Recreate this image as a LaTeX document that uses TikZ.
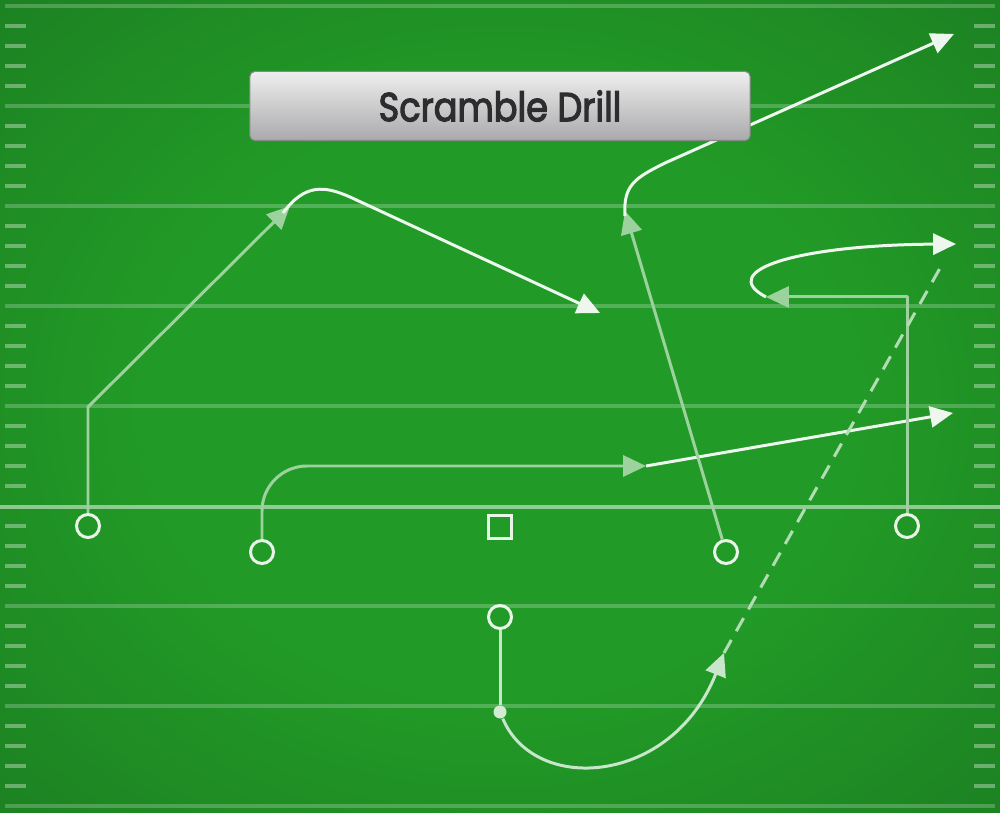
\documentclass[tikz,border=0pt]{standalone}
\usepackage{fontspec}
\setmainfont{Poppins}
\newfontfamily\titlefont{Poppins}[FakeBold=3]
\usetikzlibrary{arrows.meta}
\definecolor{turf}{RGB}{34,154,39}
\definecolor{turfdark}{RGB}{24,110,30}
\definecolor{boxtop}{RGB}{238,238,238}
\definecolor{boxbot}{RGB}{170,170,172}
\definecolor{inkgray}{RGB}{45,45,48}
\colorlet{routefaint}{white!55!turf}
\colorlet{routebright}{white!92!turf}
\pgfdeclareradialshading{turfglow}{\pgfpoint{0bp}{0bp}}{color(0bp)=(turf); color(18bp)=(turf); color(50bp)=(turfdark); color(72bp)=(turfdark)}
\tikzset{
  yardline/.style={white,opacity=0.22,line width=1.1pt},
  hashmark/.style={white,opacity=0.35,line width=1pt},
  player/.style={circle,draw=white,opacity=0.9,line width=0.85pt,minimum size=0.23cm,inner sep=0pt},
  snapbox/.style={rectangle,draw=white,opacity=0.9,line width=0.85pt,minimum size=0.23cm,inner sep=0pt},
  firstleg/.style={routefaint,line width=0.85pt,-{Triangle[length=6.5pt,width=6pt]}},
  secondleg/.style={routebright,line width=0.85pt,-{Triangle[length=6.5pt,width=6pt]}},
  titlebox/.style={rectangle,rounded corners=0.05cm,draw=boxbot!80!black,line width=0.3pt,
    top color=boxtop,bottom color=boxbot,minimum width=5cm,minimum height=0.69cm,
    text=inkgray,font=\titlefont\fontsize{11.5}{14}\selectfont}
}
\begin{document}
\begin{tikzpicture}[x=0.01cm,y=-0.01cm]
\useasboundingbox (0,0) rectangle (1000,813);
\shade[shading=turfglow] (0,0) rectangle (1000,813);
% field
\foreach \y in {6,106,206,306,406,606,706,806}
  \draw[yardline] (5,\y) -- (995,\y);
\draw[white,opacity=0.5,line width=1pt] (0,507) -- (1000,507);
\foreach \y in {6,106,...,706}
  \foreach \k in {1,...,4}{
    \draw[hashmark] (5,\y+20*\k) -- (26,\y+20*\k);
    \draw[hashmark] (974,\y+20*\k) -- (995,\y+20*\k);
  }
% players
\node[player] (lt) at (88,526) {};
\node[player] (rb) at (262,552) {};
\node[snapbox] (snap) at (500,527) {};
\node[player] (te) at (726,552) {};
\node[player] (rt) at (907,526) {};
\node[player] (qb) at (500,617) {};
\node[circle,fill=white!80!turf,minimum size=0.13cm,inner sep=0pt] (drop) at (500,712) {};
% turning points
\coordinate (aBend) at (88,407);
\coordinate (aTurn) at (290,206);
\coordinate (aEnd) at (600,313);
\coordinate (bTurn) at (646,466);
\coordinate (bEnd) at (953,413);
\coordinate (cTurn) at (625,211);
\coordinate (cEnd) at (954,34);
\coordinate (dTurn) at (766,297);
\coordinate (dEnd) at (956,244);
\coordinate (eTurn) at (724,653);
\coordinate (eEnd) at (944,261);
% routes
\draw[firstleg,line join=round] (lt.north) -- (aBend) -- (aTurn);
\draw[secondleg] (283,213) .. controls (305,183) and (325,186) .. (350,197) -- (aEnd);
\draw[firstleg,rounded corners=0.45cm] (rb.north) |- (bTurn);
\draw[secondleg] (bTurn) -- (bEnd);
\draw[firstleg] (te) -- (cTurn);
\draw[secondleg] (625,216) .. controls (623,185) and (635,178) .. (665,163) -- (cEnd);
\draw[firstleg,line join=round] (rt.north) |- (dTurn);
\draw[secondleg] (dTurn) .. controls (715,270) and (800,245) .. (dEnd);
\draw[white!75!turf,line width=0.85pt] (qb.south) -- (drop);
\draw[white!75!turf,line width=0.85pt,-{Triangle[length=6.5pt,width=6pt]}] (drop) .. controls (535,795) and (672,785) .. (eTurn);
\draw[white!65!turf,line width=0.85pt,dash pattern=on 0.15cm off 0.1cm] (eTurn) -- (eEnd);
% title
\node[titlebox] (title) at (500,106) {\scalebox{0.87}[1]{Scramble Drill}};
\end{tikzpicture}
\end{document}
